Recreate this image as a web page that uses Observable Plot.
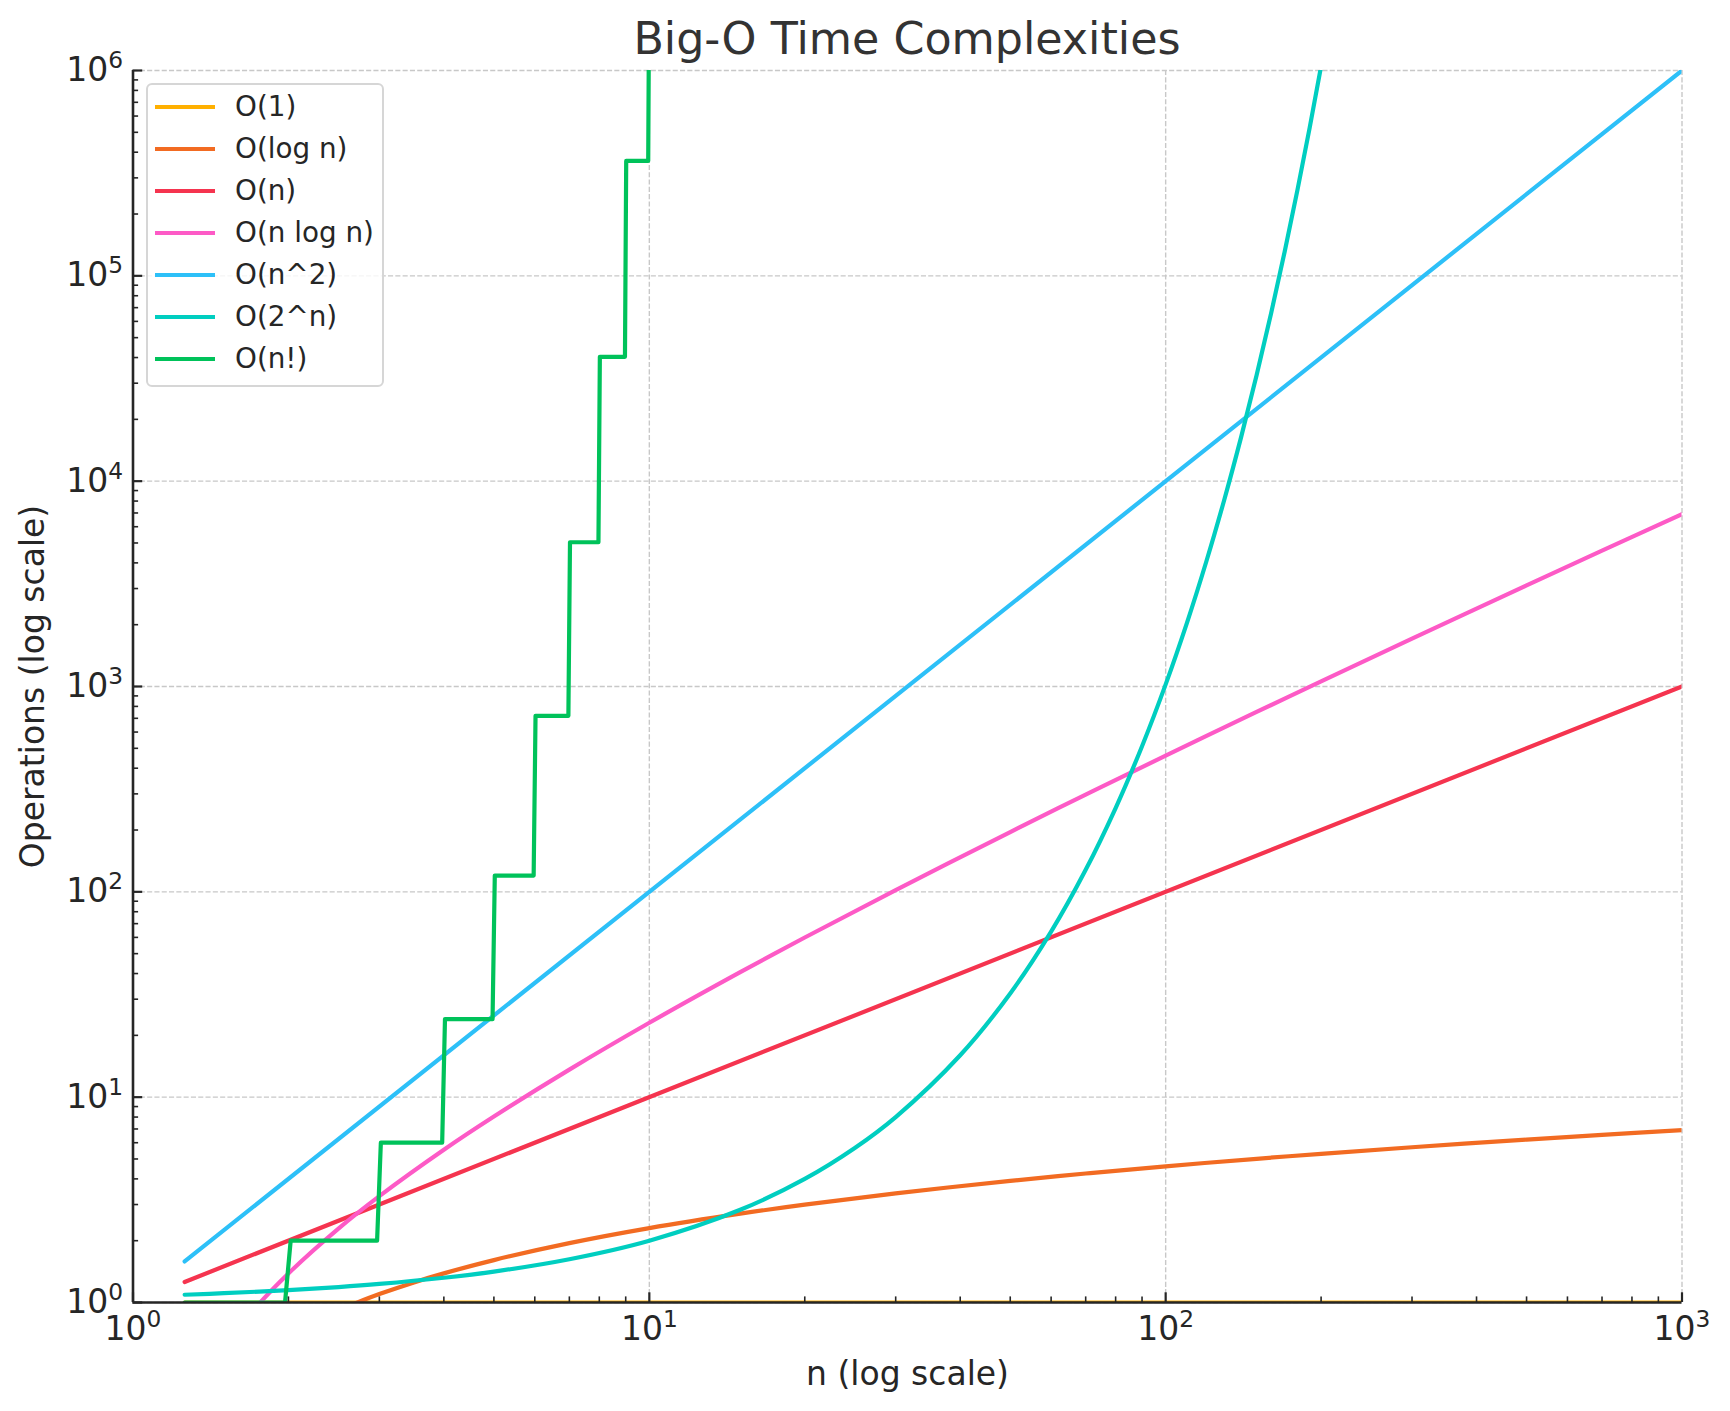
<!DOCTYPE html>
<html>
<head>
<meta charset="utf-8">
<script src="https://cdn.jsdelivr.net/npm/d3@7"></script>
<script src="https://cdn.jsdelivr.net/npm/@observablehq/plot@0.6"></script>
<style>
  html, body { margin: 0; padding: 0; background: #fff; overflow: hidden; }
  #wrap { position: relative; width: 1730px; height: 1411px; font-family: "DejaVu Sans", sans-serif; }
  #title { position: relative; height: 50px; }
  #title div { position: absolute; left: 132.5px; width: 1549px; top: 17.4px; text-align: center;
    font-size: 44.4px; line-height: 44.4px; color: #333333; white-space: nowrap; }
  #legend { position: absolute; left: 146px; top: 83px; width: 234px; height: 300px;
    border: 2.5px solid #d6d6d6; border-radius: 6px; background: rgba(255,255,255,0.8); }
  .item { position: absolute; left: 0; height: 0; }
  .sw { position: absolute; left: 6.5px; width: 60px; height: 4.2px; top: -2.1px; }
  .lb { position: absolute; left: 87px; top: -16px; font-size: 27.8px; line-height: 32px; color: #262626; white-space: nowrap; }
</style>
</head>
<body>
<div id="wrap">
  <div id="title"><div>Big-O Time Complexities</div></div>
  <div id="chart"></div>
  <div id="legend"></div>
</div>
<script>
// ---- data ----
const seriesNames = ["O(1)", "O(log n)", "O(n)", "O(n log n)", "O(n^2)", "O(2^n)", "O(n!)"];
const seriesColors = ["#FFB000", "#F26B22", "#F5344F", "#FD5AC6", "#2DC0F8", "#00CEC0", "#00C25A"];

const nConst = [1.259, 1000];
const yConst = [1, 1];

const nLog = [1.259, 1.5, 2, 2.2, 2.5, 2.7, 3, 3.5, 4, 5, 7, 10, 15, 20, 30, 50, 70, 100, 150, 200, 300, 500, 700, 1000];
const yLog = [0.230, 0.405, 0.693, 0.788, 0.916, 0.993, 1.099, 1.253, 1.386, 1.609, 1.946, 2.303, 2.708, 2.996, 3.401, 3.912, 4.248, 4.605, 5.011, 5.298, 5.704, 6.215, 6.551, 6.908];

const nLinear = [1.259, 1000];
const yLinear = [1.259, 1000];

const nNlogn = [1.259, 1.5, 1.75, 2, 2.5, 3, 4, 5, 7, 10, 15, 20, 30, 50, 70, 100, 150, 200, 300, 500, 700, 1000];
const yNlogn = [0.290, 0.608, 0.979, 1.386, 2.291, 3.296, 5.545, 8.047, 13.62, 23.03, 40.62, 59.91, 102.0, 195.6, 297.4, 460.5, 751.6, 1059.7, 1711, 3107, 4586, 6908];

const nSquare = [1.259, 1000];
const ySquare = [1.585, 1000000];

const nExp = [1.259, 1.5, 2, 2.5, 3, 4, 5, 7, 10, 15, 20, 25, 30, 40, 50, 60, 70, 80, 90, 100, 110, 120, 130, 140, 150, 160, 170, 180, 190, 200, 210];
const yExp = [1.091, 1.110, 1.149, 1.189, 1.231, 1.320, 1.414, 1.625, 2, 2.828, 4, 5.657, 8, 16, 32, 64, 128, 256, 512, 1024, 2048, 4096, 8192, 16384, 32768, 65536, 131072, 262144, 524288, 1048576, 2097152];

const nFact = [1.259, 1.97, 2.02, 2.97, 3.02, 3.97, 4.02, 4.97, 5.02, 5.97, 6.02, 6.97, 7.02, 7.97, 8.02, 8.97, 9.02, 9.95, 10.0];
const yFact = [1, 1, 2, 2, 6, 6, 24, 24, 120, 120, 720, 720, 5040, 5040, 40320, 40320, 362880, 362880, 3628800];

const xTicks = [1, 10, 100, 1000];
const yTicks = [1, 10, 100, 1000, 10000, 100000, 1000000];
const xLabel = "n (log scale)";
const yLabel = "Operations (log scale)";

// ---- build tables ----
const zip = (xs, ys) => xs.map((x, i) => ({x, y: ys[i]}));
const series = [
  {data: zip(nConst, yConst), curve: "linear"},
  {data: zip(nLog, yLog), curve: "catmull-rom"},
  {data: zip(nLinear, yLinear), curve: "linear"},
  {data: zip(nNlogn, yNlogn), curve: "catmull-rom"},
  {data: zip(nSquare, ySquare), curve: "linear"},
  {data: zip(nExp, yExp), curve: "catmull-rom"},
  {data: zip(nFact, yFact), curve: "linear"}
];

const minorX = d3.scaleLog().domain([1, 1000]).ticks().filter(v => !xTicks.includes(v));
const minorY = d3.scaleLog().domain([1, 1e6]).ticks().filter(v => !yTicks.includes(v));
const fmt = d => "10^" + Math.round(Math.log10(d));
const ink = "#262626";
const grid = {stroke: "#c8c8c8", strokeOpacity: 1, strokeWidth: 1.4, strokeDasharray: "5.1,2.2"};

const chart = Plot.plot({
  width: 1730,
  height: 1361,
  marginLeft: 132.5,
  marginRight: 48.5,
  marginTop: 20,
  marginBottom: 109,
  style: {fontFamily: "DejaVu Sans", fontSize: "33px", background: "transparent", color: ink, overflow: "visible"},
  x: {type: "log", domain: [1, 1000]},
  y: {type: "log", domain: [1, 1e6]},
  marks: [
    Plot.gridX(xTicks, grid),
    Plot.gridY(yTicks, grid),
    ...series.map((s, i) => Plot.line(s.data, {
      x: "x", y: "y", stroke: seriesColors[i], strokeWidth: 4.2, curve: s.curve, clip: true
    })),
    Plot.axisX(minorX, {tickSize: -5.6, strokeWidth: 1.6, tickFormat: () => "", label: null, color: ink}),
    Plot.axisY(minorY, {tickSize: -5.6, strokeWidth: 1.6, tickFormat: () => "", label: null, color: ink}),
    Plot.axisX(xTicks, {tickSize: -9.7, tickPadding: 23.3, strokeWidth: 2.2, tickFormat: fmt, color: ink,
      label: xLabel, labelAnchor: "center", labelOffset: 82, labelArrow: "none"}),
    Plot.axisY(yTicks, {tickSize: -9.7, tickPadding: 19.7, strokeWidth: 2.2, tickFormat: fmt, color: ink,
      label: yLabel, labelAnchor: "center", labelOffset: 112, labelArrow: "none"}),
    Plot.ruleX([1], {stroke: ink, strokeWidth: 2.6}),
    Plot.ruleY([1], {stroke: ink, strokeWidth: 2.6})
  ]
});
document.getElementById("chart").appendChild(chart);

// superscript exponents in tick labels
d3.select(chart).selectAll("text").each(function () {
  if (this.childElementCount) return;
  const t = this.textContent;
  const m = /^10\^(\d+)$/.exec(t);
  if (!m) return;
  this.textContent = "10";
  d3.select(this).append("tspan").attr("font-size", "23.3px").attr("dy", "-13px").text(m[1]);
});

// legend
const legend = d3.select("#legend");
seriesNames.forEach((name, i) => {
  const item = legend.append("div").attr("class", "item").style("top", (22.2 + i * 41.9) + "px");
  item.append("div").attr("class", "sw").style("background", seriesColors[i]);
  item.append("div").attr("class", "lb").text(name);
});
</script>
</body>
</html>
